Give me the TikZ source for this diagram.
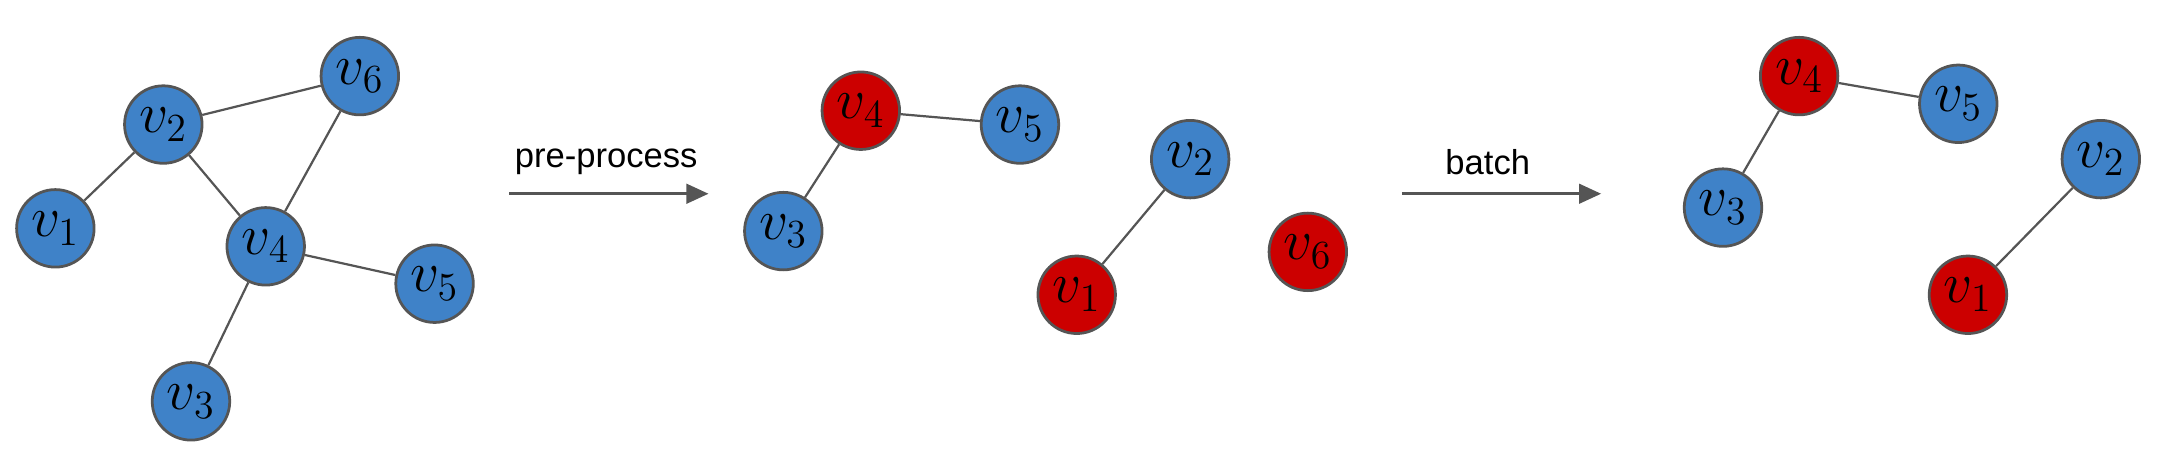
\documentclass[tikz,border=0pt]{standalone}
\usepackage{fontspec}
\setsansfont{Liberation Sans}
\usetikzlibrary{arrows.meta}
\definecolor{nblue}{HTML}{3F82C8}
\definecolor{nred}{HTML}{CC0000}
\definecolor{edg}{HTML}{555555}
\begin{document}
\begin{tikzpicture}[x=0.5pt,y=-0.5pt,
  vb/.style={circle,draw=edg,line width=1pt,fill=nblue,minimum size=28pt,inner sep=0pt,font=\fontsize{22}{22}\selectfont},
  vr/.style={vb,fill=nred},
  ed/.style={draw=edg,line width=0.8pt},
  arr/.style={draw=edg,line width=1.2pt,-{Triangle[length=8pt,width=7pt]}},
  lab/.style={font=\sffamily\fontsize{12.5}{12.5}\selectfont}]
\useasboundingbox (0,0) rectangle (1568,331);
% left graph
\node[vb] (a1) at (40,165) {$v_1$};
\node[vb] (a2) at (118,90) {$v_2$};
\node[vb] (a6) at (260,55) {$v_6$};
\node[vb] (a4) at (192,178) {$v_4$};
\node[vb] (a5) at (314,205) {$v_5$};
\node[vb] (a3) at (138,290) {$v_3$};
\draw[ed] (a1)--(a2); \draw[ed] (a2)--(a6); \draw[ed] (a2)--(a4);
\draw[ed] (a6)--(a4); \draw[ed] (a4)--(a5); \draw[ed] (a4)--(a3);
% arrow 1
\coordinate (p1) at (368,140); \coordinate (p2) at (512,140);
\draw[arr] (p1)--(p2);
\node[lab] (l1) at (438,117) {pre-process};
% middle
\node[vr] (b4) at (622,80) {$v_4$};
\node[vb] (b5) at (737,90) {$v_5$};
\node[vb] (b3) at (566,167) {$v_3$};
\node[vb] (b2) at (860,115) {$v_2$};
\node[vr] (b1) at (778,213) {$v_1$};
\node[vr] (b6) at (945,182) {$v_6$};
\draw[ed] (b4)--(b5); \draw[ed] (b4)--(b3); \draw[ed] (b2)--(b1);
% arrow 2
\coordinate (q1) at (1013,140); \coordinate (q2) at (1157,140);
\draw[arr] (q1)--(q2);
\node[lab] (l2) at (1075,117) {batch};
% right
\node[vr] (c4) at (1300,55) {$v_4$};
\node[vb] (c5) at (1415,75) {$v_5$};
\node[vb] (c3) at (1245,150) {$v_3$};
\node[vb] (c2) at (1518,115) {$v_2$};
\node[vr] (c1) at (1422,213) {$v_1$};
\draw[ed] (c4)--(c5); \draw[ed] (c4)--(c3); \draw[ed] (c2)--(c1);
\end{tikzpicture}
\end{document}
